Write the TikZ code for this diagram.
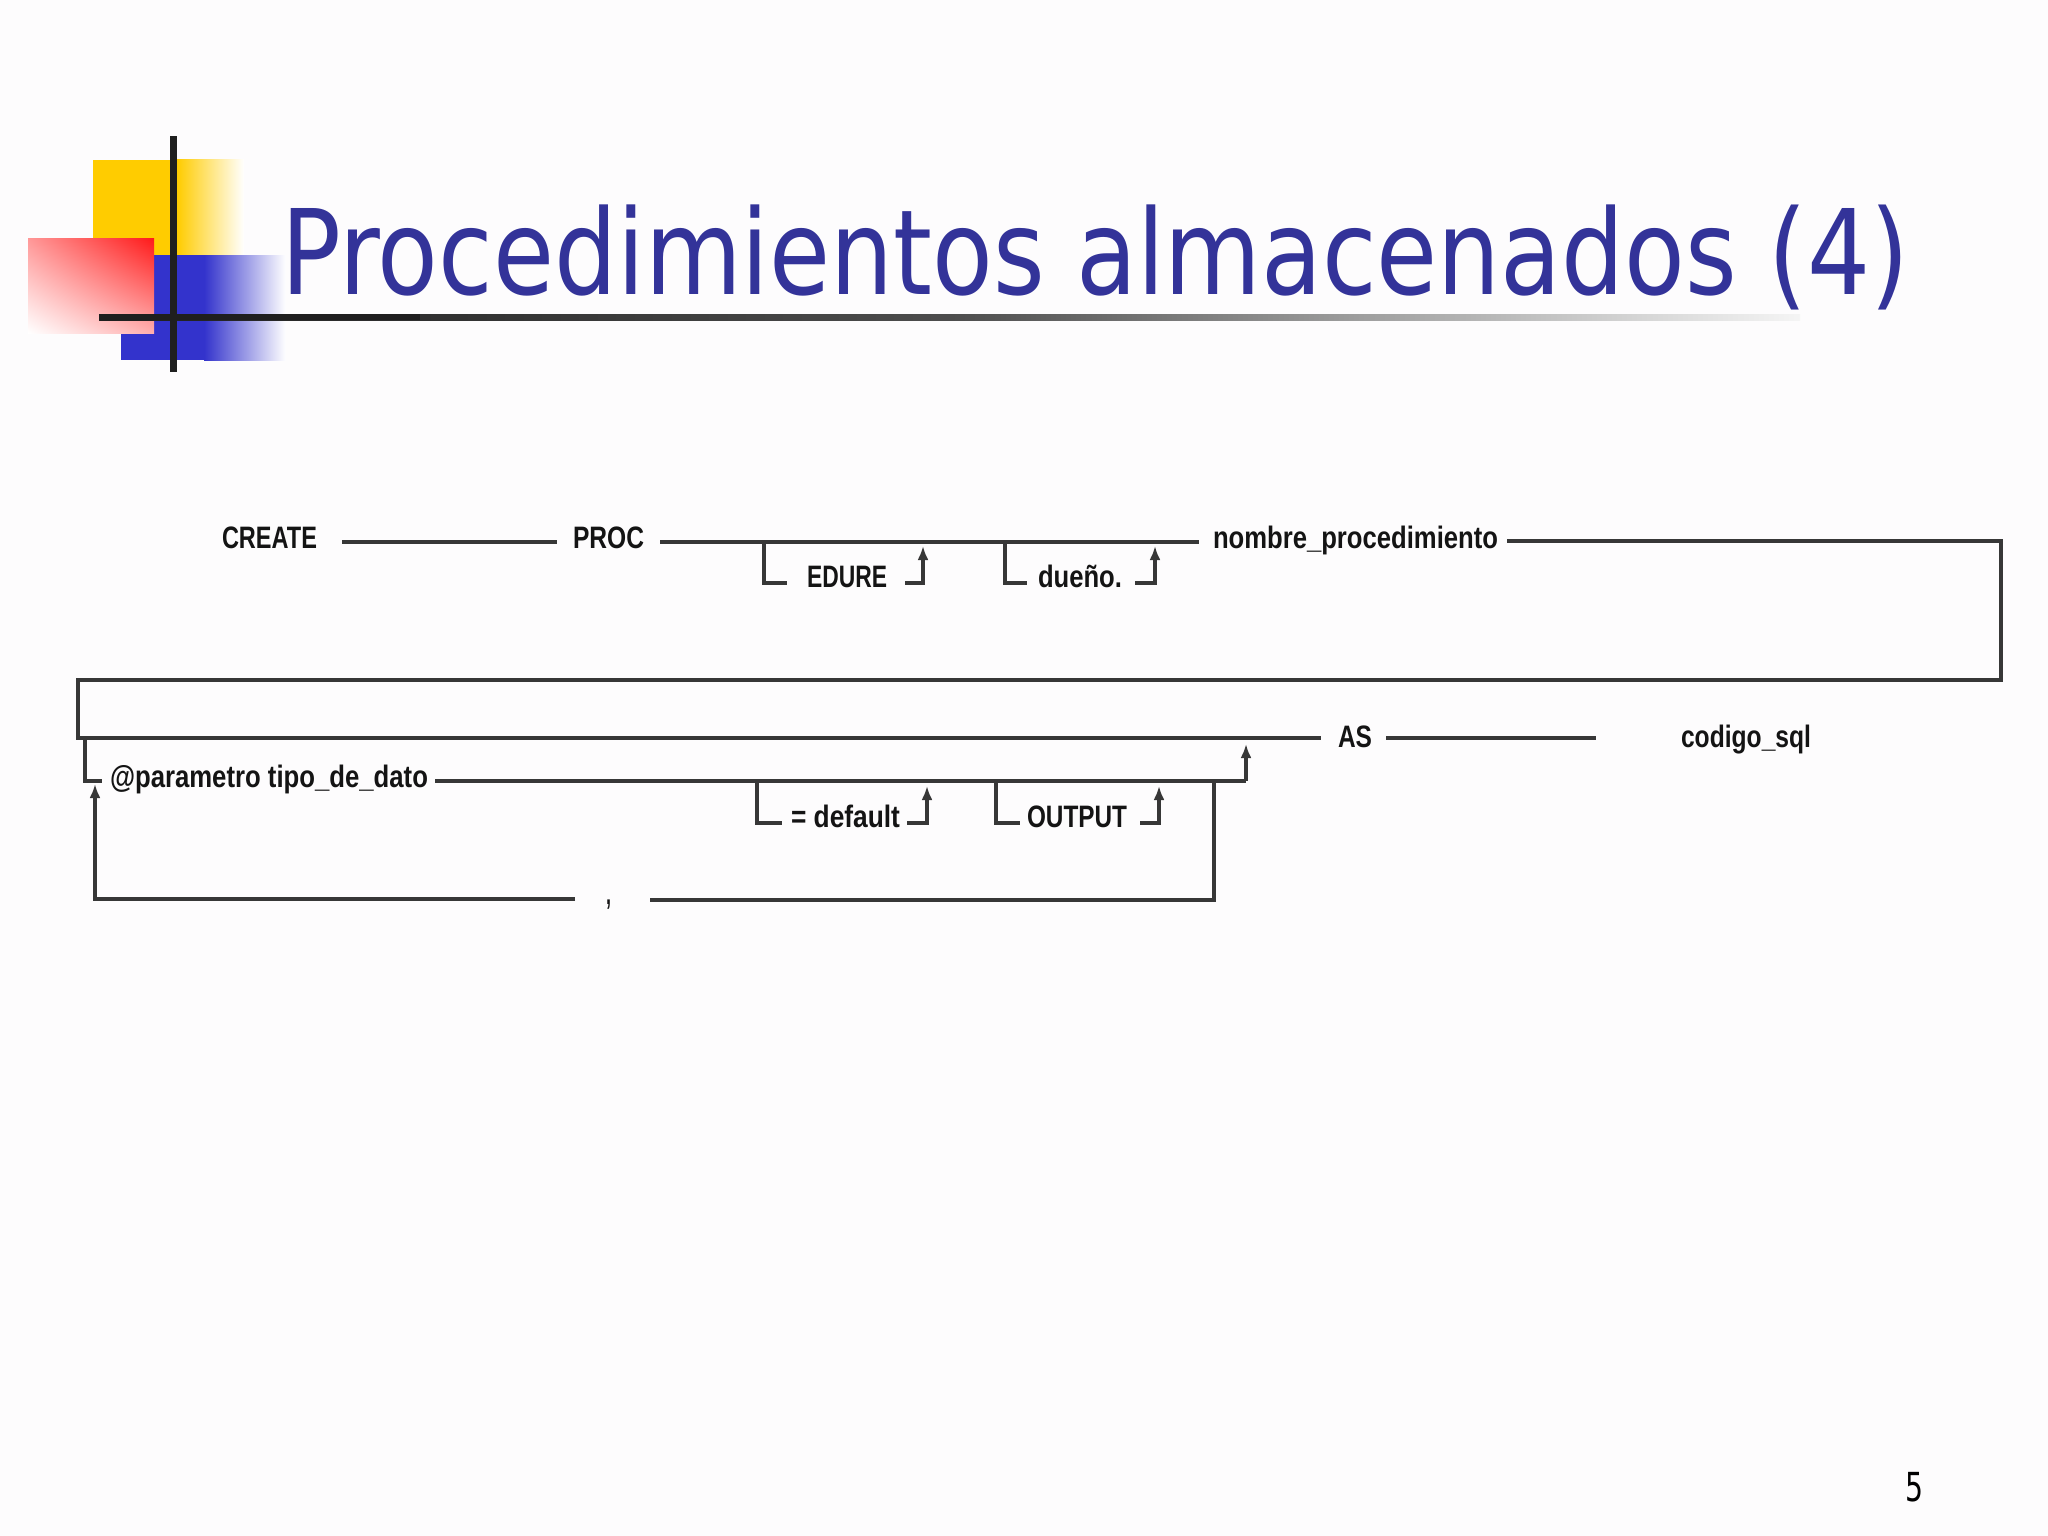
\documentclass[tikz,border=0pt]{standalone}
\usepackage{fontspec}
\usepackage{graphicx}
\setmainfont{Liberation Sans}
\newfontfamily\titlefont{DejaVu Sans}
\usetikzlibrary{arrows.meta,shadings}
\definecolor{titleblue}{RGB}{51,51,153}
\definecolor{logoyellow}{RGB}{255,204,0}
\definecolor{logoblue}{RGB}{51,51,204}
\definecolor{logored}{RGB}{255,25,25}
\definecolor{railgray}{RGB}{55,55,55}
\definecolor{bgwhite}{RGB}{253,252,253}
\definecolor{railtext}{RGB}{20,20,20}
\newcommand{\rrtext}[2]{\resizebox{#1pt}{\height}{\fontsize{31}{31}\selectfont\bfseries #2}}
\tikzset{
  railword/.style={inner sep=0pt, outer sep=0pt, anchor=base west, text=railtext},
  rail/.style={draw=railgray, line width=3.4pt, line cap=butt, line join=miter},
  railup/.style={rail, -{Latex[length=14pt,width=11pt]}},
}
\begin{document}
\begin{tikzpicture}[x=1pt,y=-1pt]
\useasboundingbox (0,0) rectangle (2048,1536);
\fill[bgwhite] (0,0) rectangle (2048,1536);

% ---------- logo ----------
\fill[logoyellow] (93,160) rectangle (178,255);
\shade[left color=logoyellow, right color=white] (177,160) rectangle (244,255);
\fill[logoblue] (121,255) rectangle (205,360);
\shade[left color=logoblue, right color=white] (204,255) rectangle (286,360);
\shade[upper left=logored!45, upper right=logored, lower left=white, lower right=logored!35] (28,238) rectangle (154,333);
\shade[left color=black!88, right color=black!4, middle color=black!70] (99,314) rectangle (1800,320);
\fill[black!88] (99,314) rectangle (420,320);
\fill[black!88] (170,136) rectangle (177,372);

% ---------- title ----------
\node[inner sep=0pt, anchor=base west, text=titleblue] (title) at (281,294)
  {\resizebox{1628pt}{\height}{\titlefont\fontsize{118}{118}\selectfont Procedimientos almacenados (4)}};

% ---------- page number ----------
\node[inner sep=0pt, anchor=base west, text=black] (pagenum) at (1905,1501)
  {\resizebox{18pt}{\height}{\titlefont\fontsize{40}{40}\selectfont 5}};

% ---------- words ----------
\node[railword] (create) at (222,548) {\rrtext{95}{CREATE}};
\node[railword] (proc)   at (573,548) {\rrtext{71}{PROC}};
\node[railword] (edure)  at (807,587) {\rrtext{80}{EDURE}};
\node[railword] (dueno)  at (1038,587) {\rrtext{84}{dueño.}};
\node[railword] (nombre) at (1213,548) {\rrtext{285}{nombre\_procedimiento}};
\node[railword] (as)     at (1338,747) {\rrtext{34}{AS}};
\node[railword] (codigo) at (1681,747) {\rrtext{130}{codigo\_sql}};
\node[railword] (param)  at (110,787) {\rrtext{318}{@parametro tipo\_de\_dato}};
\node[railword] (default) at (791,827) {\rrtext{109}{= default}};
\node[railword] (output) at (1027,827) {\rrtext{100}{OUTPUT}};
\node[railword] (comma)  at (606,904) {\rrtext{5}{,}};

% ---------- junction coordinates ----------
% row 1
\coordinate (c1a) at (342,542);  \coordinate (c1b) at (557,542);
\coordinate (p1a) at (660,542);  \coordinate (p1b) at (1199,542);
\coordinate (e1) at (764,542);   \coordinate (e2) at (764,583);  \coordinate (e3) at (787,583);
\coordinate (e4) at (905,583);   \coordinate (e5) at (923,583);  \coordinate (e6) at (923,546);
\coordinate (d1) at (1005,542);  \coordinate (d2) at (1005,583); \coordinate (d3) at (1027,583);
\coordinate (d4) at (1135,583);  \coordinate (d5) at (1155,583); \coordinate (d6) at (1155,546);
\coordinate (n1) at (1507,541);  \coordinate (n2) at (2001,541);
\coordinate (n3) at (2001,680);  \coordinate (n4) at (78,680);
\coordinate (n5) at (78,738);    \coordinate (n6) at (1321,738);
\coordinate (a1) at (1386,738);  \coordinate (a2) at (1596,738);
% row 2
\coordinate (s1) at (85,738);    \coordinate (s2) at (85,781);   \coordinate (s3) at (102,781);
\coordinate (r1) at (435,781);   \coordinate (r2) at (1246,781); \coordinate (r3) at (1246,744);
\coordinate (f1) at (757,781);   \coordinate (f2) at (757,823);  \coordinate (f3) at (782,823);
\coordinate (f4) at (907,823);   \coordinate (f5) at (927,823);  \coordinate (f6) at (927,786);
\coordinate (o1) at (996,781);   \coordinate (o2) at (996,823);  \coordinate (o3) at (1020,823);
\coordinate (o4) at (1140,823);  \coordinate (o5) at (1159,823); \coordinate (o6) at (1159,786);
\coordinate (l1) at (1214,781);  \coordinate (l2) at (1214,900); \coordinate (l3) at (650,900);
\coordinate (l4) at (575,899);   \coordinate (l5) at (95,899);   \coordinate (l6) at (95,784);

% ---------- connectors ----------
\draw[rail] (c1a) -- (c1b);
\draw[rail] (p1a) -- (p1b);
\draw[rail] (e1) -- (e2) -- (e3);
\draw[railup] (e4) -- (e5) -- (e6);
\draw[rail] (d1) -- (d2) -- (d3);
\draw[railup] (d4) -- (d5) -- (d6);
\draw[rail] (n1) -- (n2) -- (n3) -- (n4) -- (n5) -- (n6);
\draw[rail] (a1) -- (a2);
\draw[rail] (s1) -- (s2) -- (s3);
\draw[rail] (r1) -- (r2);
\draw[railup] (r2) -- (r3);
\draw[rail] (f1) -- (f2) -- (f3);
\draw[railup] (f4) -- (f5) -- (f6);
\draw[rail] (o1) -- (o2) -- (o3);
\draw[railup] (o4) -- (o5) -- (o6);
\draw[rail] (l1) -- (l2) -- (l3);
\draw[railup] (l4) -- (l5) -- (l6);
\end{tikzpicture}
\end{document}
